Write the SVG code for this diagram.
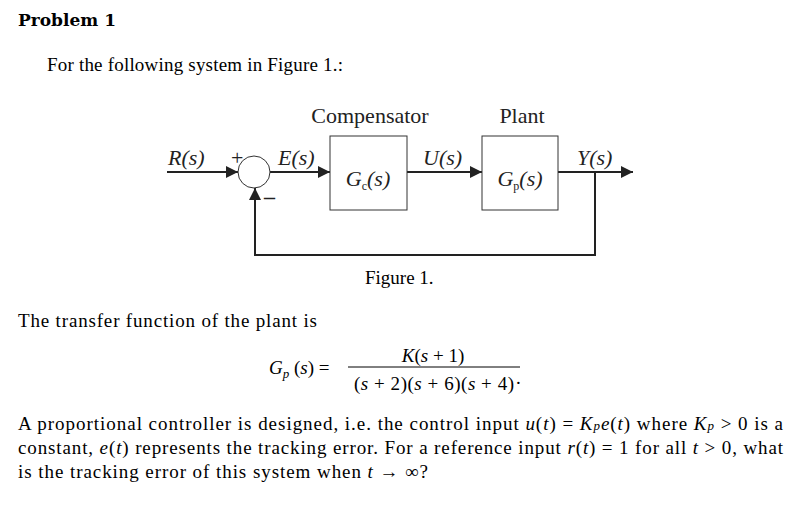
<svg xmlns="http://www.w3.org/2000/svg" width="805" height="510" viewBox="0 0 805 510">
<defs>
<style>
.t{font-family:"DejaVu Serif","Liberation Serif",serif;font-size:17px;fill:#000}
.s{font-family:"Liberation Serif",serif;font-size:19px;fill:#000}
.d{font-family:"Liberation Serif",serif;font-size:22px;fill:#222}
.i{font-style:italic}
.ln{stroke:#222;stroke-width:2;fill:none}
.bx{stroke:#333;stroke-width:1;fill:#fff}
</style>
<marker id="ar" viewBox="0 0 10 10" refX="10" refY="5" markerWidth="13" markerHeight="12" markerUnits="userSpaceOnUse" orient="auto"><path d="M0,0L10,5L0,10z" fill="#222"/></marker>
</defs>
<rect width="805" height="510" fill="#fff"/>
<text x="18" y="26" class="t" style="font-weight:bold">Problem 1</text>
<text x="47" y="71" class="s" textLength="296">For the following system in Figure 1.:</text>
<g id="connectors">
<line x1="167" y1="172" x2="238" y2="172" class="ln" marker-end="url(#ar)"/>
<line x1="270" y1="172" x2="330" y2="172" class="ln" marker-end="url(#ar)"/>
<line x1="407" y1="172" x2="482" y2="172" class="ln" marker-end="url(#ar)"/>
<line x1="558" y1="172" x2="633" y2="172" class="ln" marker-end="url(#ar)"/>
<polyline points="595,172 595,255 255,255 255,188" class="ln" marker-end="url(#ar)"/>
</g>
<g id="sum"><circle cx="254" cy="172" r="16" class="bx" stroke="#666"/></g>
<g id="compensator"><rect x="330" y="136" width="77" height="74" class="bx"/><text x="368" y="186" class="d i" text-anchor="middle">G<tspan font-size="12" dy="4" font-style="normal">c</tspan><tspan dy="-4">(s)</tspan></text></g>
<g id="plant"><rect x="482" y="136" width="76" height="74" class="bx"/><text x="520" y="186" class="d i" text-anchor="middle">G<tspan font-size="12" dy="4" font-style="normal">p</tspan><tspan dy="-4">(s)</tspan></text></g>
<text x="370" y="123" class="d" text-anchor="middle">Compensator</text>
<text x="522" y="123" class="d" text-anchor="middle">Plant</text>
<text x="168" y="165" class="d i">R(s)</text>
<text x="231" y="165" class="d" font-size="18" fill="#777">+</text>
<text x="278" y="165" class="d i">E(s)</text>
<text x="423" y="165" class="d i">U(s)</text>
<text x="577" y="165" class="d i">Y(s)</text>
<text x="264" y="204" class="d" style="font-weight:bold">–</text>
<text x="365" y="284" class="s">Figure 1.</text>
<text x="18" y="327" class="s" textLength="299">The transfer function of the plant is</text>
<g class="s">
<text x="269" y="374"><tspan font-style="italic">G</tspan><tspan font-size="13" font-style="italic" dy="4">p</tspan><tspan dy="-4"> (</tspan><tspan font-style="italic">s</tspan>) =</text>
<text x="433" y="362" text-anchor="middle"><tspan font-style="italic">K</tspan>(<tspan font-style="italic">s</tspan> + 1)</text>
<line x1="348" y1="367" x2="520" y2="367" stroke="#000" stroke-width="1"/>
<text x="434" y="390" text-anchor="middle" textLength="160">(<tspan font-style="italic">s</tspan> + 2)(<tspan font-style="italic">s</tspan> + 6)(<tspan font-style="italic">s</tspan> + 4)</text>
<text x="516" y="384">.</text>
<text x="18" y="430" textLength="765">A proportional controller is designed, i.e. the control input <tspan font-style="italic">u</tspan>(<tspan font-style="italic">t</tspan>) = <tspan font-style="italic">K</tspan><tspan font-size="13" font-style="italic">p</tspan><tspan font-style="italic">e</tspan>(<tspan font-style="italic">t</tspan>) where <tspan font-style="italic">K</tspan><tspan font-size="13" font-style="italic">p</tspan> &gt; 0 is a</text>
<text x="18" y="454" textLength="765">constant, <tspan font-style="italic">e</tspan>(<tspan font-style="italic">t</tspan>) represents the tracking error. For a reference input <tspan font-style="italic">r</tspan>(<tspan font-style="italic">t</tspan>) = 1 for all <tspan font-style="italic">t</tspan> &gt; 0, what</text>
<text x="18" y="478" textLength="410">is the tracking error of this system when <tspan font-style="italic">t</tspan> → ∞?</text>
</g>
</svg>
